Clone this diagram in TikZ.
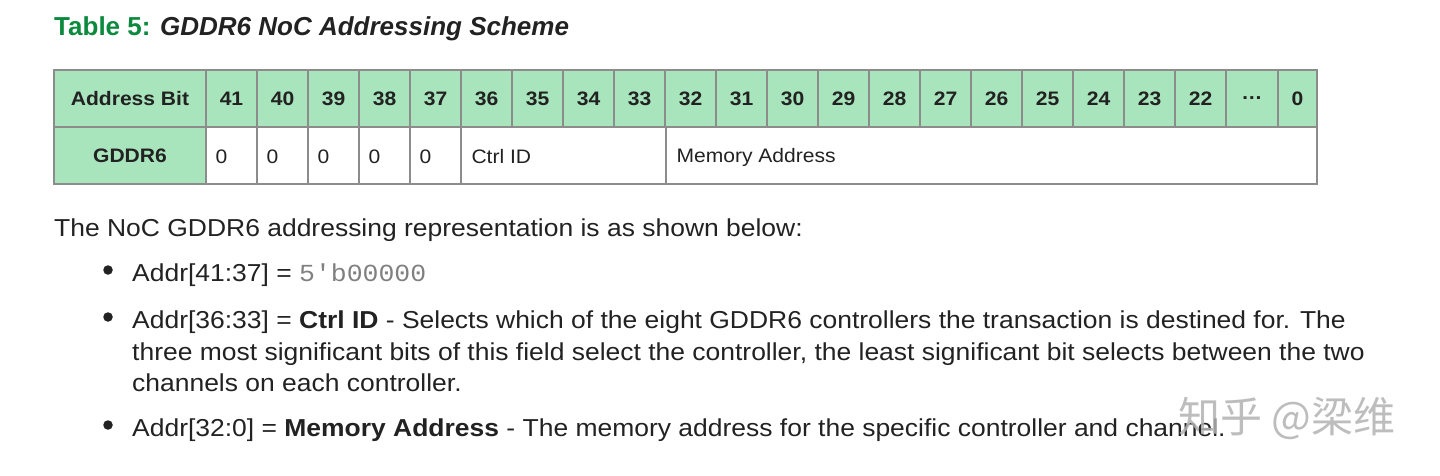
\documentclass[tikz,border=0pt]{standalone}
\usepackage{fontspec}
\setmainfont{Liberation Sans}[FakeStretch=1.08]
\newfontfamily\ttlfont{Liberation Sans}
\setmonofont{Liberation Mono}[FakeStretch=1.08]
\newfontfamily\cjk{Noto Sans CJK SC}
\definecolor{hdr}{HTML}{A8E4BC}
\definecolor{grid}{HTML}{8C8C8C}
\definecolor{ttlgreen}{HTML}{0B8A3E}
\definecolor{ink}{HTML}{222222}
\begin{document}
\begin{tikzpicture}[x=1pt,y=-1pt,
  hcell/.style={draw=grid,fill=hdr,line width=1.2pt},
  wcell/.style={draw=grid,fill=white,line width=1.2pt},
  htxt/.style={font=\fontsize{19.5}{22}\selectfont\bfseries,text=ink},
  ctxt/.style={font=\fontsize{19.5}{22}\selectfont,text=ink},
  body/.style={font=\fontsize{24.5}{31}\selectfont,text=ink,anchor=base west,inner sep=0pt},
  bul/.style={circle,fill=ink,inner sep=0pt,minimum size=9.5pt}]
\useasboundingbox (0,0) rectangle (1440,476);
\node[anchor=base west,inner sep=0pt,font=\ttlfont\fontsize{26}{30}\selectfont\bfseries] (title) at (54,36)
  {\textcolor{ttlgreen}{Table 5:} \textcolor{ink}{\itshape GDDR6 NoC Addressing Scheme}};
% header row
\draw[hcell] (54,70) rectangle (206,127);
\node[htxt] (ab) at (130,98.5) {Address Bit};
\foreach \i/\lab in {0/41,1/40,2/39,3/38,4/37,5/36,6/35,7/34,8/33,9/32,10/31,11/30,12/29,13/28,14/27,15/26,16/25,17/24,18/23,19/22}{
  \draw[hcell] ({206+51*\i},70) rectangle ({257+51*\i},127);
  \node[htxt] (h\i) at ({231.5+51*\i},98.5) {\lab};
}
\draw[hcell] (1226,70) rectangle (1278,127);
\node[htxt] (h20) at (1252,98.5) {\dots};
\draw[hcell] (1278,70) rectangle (1317,127);
\node[htxt] (h21) at (1297.5,98.5) {0};
% second row
\draw[hcell] (54,127) rectangle (206,184);
\node[htxt] (g) at (130,155.5) {GDDR6};
\foreach \i in {0,...,4}{
  \draw[wcell] ({206+51*\i},127) rectangle ({257+51*\i},184);
  \node[ctxt,anchor=west] (z\i) at ({212+51*\i},157) {0};
}
\draw[wcell] (461,127) rectangle (666,184);
\node[ctxt,anchor=west] (ctrl) at (468,157) {Ctrl ID};
\draw[wcell] (666,127) rectangle (1317,184);
\node[ctxt,anchor=west] (mem) at (673,157) {Memory Address};
% text
\node[body] (intro) at (54,236) {The NoC GDDR6 addressing representation is as shown below:};
\node[bul] (b1) at (108,270) {};
\node[body] (t1) at (132,281) {Addr[41:37] = \textcolor{gray}{\ttfamily 5'b00000}};
\node[bul] (b2) at (108,317) {};
\node[body] (t2) at (132,328) {Addr[36:33] = \textbf{Ctrl ID} - Selects which of the eight GDDR6 controllers the transaction is destined for. The};
\node[body] (t2b) at (132,360) {three most significant bits of this field select the controller, the least significant bit selects between the two};
\node[body] (t2c) at (132,391) {channels on each controller.};
\node[bul] (b3) at (108,425) {};
\node[body] (t3) at (132,436) {Addr[32:0] = \textbf{Memory Address} - The memory address for the specific controller and channel.};
\node[anchor=base west,inner sep=0pt,font=\cjk\fontsize{42}{44}\selectfont,text=gray!60,opacity=0.85] (wm) at (1178,432) {知乎 @梁维};
\end{tikzpicture}
\end{document}
